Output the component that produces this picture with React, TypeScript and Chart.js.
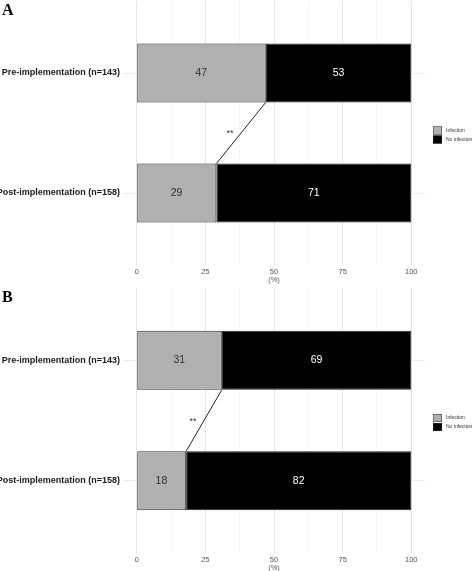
import React, { useEffect, useRef } from "react";
import { Chart, registerables } from "chart.js";

Chart.register(...registerables);

const categories = ["Pre-implementation (n=143)", "Post-implementation (n=158)"];
const seriesNames = ["Infection", "No infection"];
const infectionA = [47, 29];
const noInfectionA = [53, 71];
const infectionB = [31, 18];
const noInfectionB = [69, 82];
const xTickValues = [0, 12.5, 25, 37.5, 50, 62.5, 75, 87.5, 100];
const significance = "**";
const axisTitle = "(%)";

const GRAY = "#b0b0b0";
const BLACK = "#000000";
const BAR_FRAC = 0.49;

function Panel(props: { letter: string; infection: number[]; noInfection: number[]; top: number; height: number }) {
  const ref = useRef<HTMLCanvasElement>(null);
  useEffect(() => {
    const { infection, noInfection, letter } = props;
    const annot = {
      id: "annot",
      afterDatasetsDraw(chart: any) {
        const ctx = chart.ctx;
        const x = chart.scales.x;
        const y = chart.scales.y;
        ctx.save();
        ctx.textAlign = "center";
        ctx.textBaseline = "middle";
        ctx.font = '10.5px "Liberation Sans", Arial, sans-serif';
        infection.forEach((v, i) => {
          ctx.fillStyle = "#333333";
          ctx.fillText(String(v), x.getPixelForValue(v / 2), y.getPixelForValue(i + 1));
        });
        noInfection.forEach((v, i) => {
          ctx.fillStyle = "#ffffff";
          ctx.fillText(String(v), x.getPixelForValue(infection[i] + v / 2), y.getPixelForValue(i + 1));
        });
        // significance connector
        const half = BAR_FRAC / 2;
        const x1 = x.getPixelForValue(infection[0]);
        const y1 = y.getPixelForValue(1 + half);
        const x2 = x.getPixelForValue(infection[1]);
        const y2 = y.getPixelForValue(2 - half);
        ctx.strokeStyle = "#222222";
        ctx.lineWidth = 1;
        ctx.beginPath();
        ctx.moveTo(x1, y1);
        ctx.lineTo(x2, y2);
        ctx.stroke();
        ctx.fillStyle = "#333333";
        ctx.font = '9px "Liberation Sans", Arial, sans-serif';
        ctx.fillText(significance, (x1 + x2) / 2 - 11, (y1 + y2) / 2 + 1);
        // legend
        const ca = chart.chartArea;
        const cy = (ca.top + ca.bottom) / 2 + 2;
        const lx = 433;
        const kw = 9;
        const kh = 9;
        [GRAY, BLACK].forEach((c, i) => {
          const ky = cy - kh + i * kh;
          ctx.fillStyle = "#f2f2f2";
          ctx.fillRect(lx - 0.5, ky, kw + 1, kh);
          ctx.fillStyle = c;
          ctx.fillRect(lx, ky + 0.5, kw, kh - 1);
          ctx.strokeStyle = "#333333";
          ctx.lineWidth = 0.5;
          ctx.strokeRect(lx + 0.25, ky + 0.75, kw - 0.5, kh - 1.5);
          ctx.fillStyle = "#333333";
          ctx.font = '5px "Liberation Sans", Arial, sans-serif';
          ctx.textAlign = "left";
          ctx.fillText(seriesNames[i], lx + kw + 4, ky + kh / 2);
        });
        // panel letter
        ctx.fillStyle = "#000000";
        ctx.font = 'bold 16px "Liberation Serif", "Times New Roman", serif';
        ctx.textAlign = "left";
        ctx.textBaseline = "middle";
        ctx.fillText(letter, 2, 11);
        ctx.restore();
      },
    };

    const chart = new Chart(ref.current as HTMLCanvasElement, {
      type: "bar",
      data: {
        datasets: [
          {
            label: seriesNames[0],
            data: infection.map((v, i) => ({ x: v, y: i + 1 })),
            backgroundColor: GRAY,
            borderColor: "#333333",
            borderWidth: 1,
            borderSkipped: false,
            barPercentage: BAR_FRAC,
            categoryPercentage: 1,
          },
          {
            label: seriesNames[1],
            data: noInfection.map((v, i) => ({ x: v, y: i + 1 })),
            backgroundColor: BLACK,
            borderColor: "#222222",
            borderWidth: 1,
            borderSkipped: false,
            barPercentage: BAR_FRAC,
            categoryPercentage: 1,
          },
        ],
      },
      options: {
        indexAxis: "y",
        responsive: false,
        animation: false,
        layout: { padding: { top: 1, right: 49, left: 0, bottom: 0 } },
        plugins: { legend: { display: false }, tooltip: { enabled: false } },
        scales: {
          x: {
            type: "linear",
            position: "bottom",
            min: -5,
            max: 105,
            stacked: true,
            offset: false,
            afterBuildTicks: (s: any) => {
              s.ticks = xTickValues.map((v) => ({ value: v }));
            },
            afterFit: (s: any) => {
              s.height = 22;
            },
            border: { display: false },
            grid: {
              offset: false,
              drawTicks: false,
              color: (c: any) => (c.tick && c.tick.value % 25 === 0 ? "#e4e4e4" : "#f0f0f0"),
              lineWidth: (c: any) => (c.tick && c.tick.value % 25 === 0 ? 1 : 0.6),
            },
            ticks: {
              autoSkip: false,
              maxRotation: 0,
              padding: 2,
              color: "#555555",
              font: { family: '"Liberation Sans", Arial, sans-serif', size: 7.5 },
              callback: (v: any) => (Number(v) % 25 === 0 ? String(v) : ""),
            },
            title: {
              display: true,
              text: axisTitle,
              color: "#555555",
              font: { family: '"Liberation Sans", Arial, sans-serif', size: 7.5 },
              padding: { top: 0, bottom: 3 },
            },
          },
          y: {
            type: "linear",
            min: 0.4,
            max: 2.6,
            reverse: true,
            stacked: true,
            offset: false,
            afterBuildTicks: (s: any) => {
              s.ticks = categories.map((_, i) => ({ value: i + 1 }));
            },
            afterFit: (s: any) => {
              s.width = 123;
              s.paddingTop = 0;
              s.paddingBottom = 0;
            },
            border: { display: false },
            grid: { offset: false, drawTicks: false, color: "#ececec", lineWidth: 1 },
            ticks: {
              padding: 3,
              color: "#1a1a1a",
              font: { family: '"Liberation Sans", Arial, sans-serif', size: 9, weight: "bold" },
              callback: (v: any) => categories[Number(v) - 1] ?? "",
            },
          },
        },
      },
      plugins: [annot],
    } as any);
    return () => chart.destroy();
  }, []);
  return (
    <canvas
      ref={ref}
      width={474}
      height={props.height}
      style={{ position: "absolute", left: 0, top: props.top, width: 474, height: props.height }}
    />
  );
}

export default function App() {
  return (
    <div style={{ position: "absolute", left: 0, top: 0, width: 474, height: 571, overflow: "hidden", background: "#ffffff" }}>
      <Panel letter="A" infection={infectionA} noInfection={noInfectionA} top={0} height={287} />
      <Panel letter="B" infection={infectionB} noInfection={noInfectionB} top={287} height={288} />
    </div>
  );
}
